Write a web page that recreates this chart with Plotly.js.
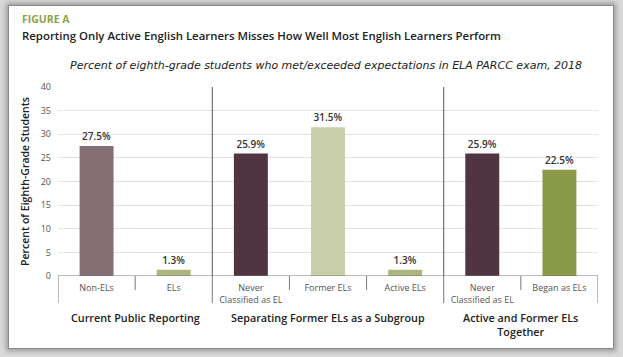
<!DOCTYPE html>
<html>
<head>
<meta charset="utf-8">
<script src="https://cdn.plot.ly/plotly-3.0.1.min.js"></script>
<style>
html,body{margin:0;padding:0;background:#fff;}
#wrap{position:relative;width:623px;height:357px;overflow:hidden;background:#d9d9d9;}
#frame{position:absolute;left:8px;top:5px;width:604px;height:342px;background:#fff;border:1px solid #8a8a8a;box-shadow:0 0 5px 2px #9a9a9a;}
#chart{position:absolute;left:0;top:0;width:623px;height:357px;}
</style>
</head>
<body>
<div id="wrap"><div id="frame"></div><div id="chart"></div></div>
<script>
const categories = ["Non-ELs", "ELs", "Never<br>Classified as EL", "Former ELs", "Active ELs", "Never<br>Classified as EL", "Began as ELs"];
const values = [27.5, 1.3, 25.9, 31.5, 1.3, 25.9, 22.5];
const barColors = ["#836F74", "#AEB57F", "#513441", "#C9CFA9", "#AEB57F", "#513441", "#8A9A49"];
const groupLabels = ["Current Public Reporting", "Separating Former ELs as a Subgroup", "Active and Former ELs<br>Together"];
const groupCenters = [0.5, 3, 5.5];
const yTicks = [0, 5, 10, 15, 20, 25, 30, 35, 40];

const W = 623, H = 357, L = 58, R = 25, T = 87, B = 81;
const pw = W - L - R, ph = H - T - B;
const px = x => (x - L) / pw;
const py = y => (H - B - y) / ph;
const FONT = "Open Sans";
const FONT2 = "DejaVu Sans";

const xs = categories.map((c, i) => i);

const trace = {
  type: "bar",
  x: xs,
  y: values,
  width: 0.44,
  marker: {color: barColors},
  text: values.map(v => v.toFixed(1) + "%"),
  textposition: "outside",
  cliponaxis: false,
  textfont: {family: FONT, size: 10, color: "#333", weight: 600},
  hoverinfo: "skip"
};

const shapes = [];
[-0.5, 1.5, 4.5, 6.5].forEach(v => {
  shapes.push({type: "line", xref: "x", yref: "paper", x0: v, x1: v, y0: py(303), y1: 0, line: {color: "#777", width: 1}});
});
[1.5, 4.5].forEach(v => {
  shapes.push({type: "line", xref: "x", yref: "paper", x0: v, x1: v, y0: 0, y1: 1, line: {color: "#555", width: 1}});
});
[0.5, 2.5, 3.5, 5.5].forEach(v => {
  shapes.push({type: "line", xref: "x", yref: "paper", x0: v, x1: v, y0: py(290), y1: 0, line: {color: "#777", width: 1}});
});
shapes.push({type: "line", xref: "paper", yref: "y", x0: 0, x1: 1, y0: 0, y1: 0, line: {color: "#777", width: 1}});

const annotations = [
  {text: "FIGURE A", xref: "paper", yref: "paper", x: px(20), y: py(19), xanchor: "left", yanchor: "middle", showarrow: false,
   font: {family: FONT, size: 10.5, color: "#8BA34B", weight: 700}},
  {text: "Reporting Only Active English Learners Misses How Well Most English Learners Perform", xref: "paper", yref: "paper", x: px(20), y: py(35), xanchor: "left", yanchor: "middle", showarrow: false,
   font: {family: FONT, size: 11.4, color: "#222", weight: 600}},
  {text: "<i>Percent of eighth-grade students who met/exceeded expectations in ELA PARCC exam, 2018</i>", xref: "paper", yref: "paper", x: px(326), y: py(66), xanchor: "center", yanchor: "middle", showarrow: false,
   font: {family: FONT2, size: 11, color: "#222"}}
];
groupLabels.forEach((g, i) => {
  annotations.push({text: g, xref: "x", yref: "paper", x: groupCenters[i], y: py(308), xanchor: "center", yanchor: "top", showarrow: false,
    font: {family: FONT, size: 10.8, color: "#222", weight: 600}, align: "center"});
});

const layout = {
  width: W, height: H,
  margin: {l: L, r: R, t: T, b: B, pad: 0},
  paper_bgcolor: "rgba(0,0,0,0)",
  plot_bgcolor: "rgba(0,0,0,0)",
  showlegend: false,
  bargap: 0.56,
  xaxis: {
    range: [-0.5, 6.5],
    tickvals: xs,
    ticktext: categories,
    ticks: "",
    ticklabelstandoff: 5,
    showgrid: false,
    zeroline: false,
    showline: false,
    tickfont: {family: FONT, size: 9, color: "#555"},
    fixedrange: true
  },
  yaxis: {
    range: [0, 40],
    tickvals: yTicks,
    ticktext: yTicks.map(String),
    showgrid: true,
    gridcolor: "#e4e4e4",
    gridwidth: 1,
    zeroline: false,
    showline: false,
    ticks: "",
    ticklabelstandoff: 6,
    tickfont: {family: FONT, size: 9, color: "#555"},
    title: {text: "Percent of Eighth-Grade Students", font: {family: FONT, size: 10.5, color: "#222", weight: 600}, standoff: 9},
    fixedrange: true
  },
  shapes: shapes,
  annotations: annotations
};

Plotly.newPlot("chart", [trace], layout, {displayModeBar: false, staticPlot: true});
</script>
</body>
</html>
